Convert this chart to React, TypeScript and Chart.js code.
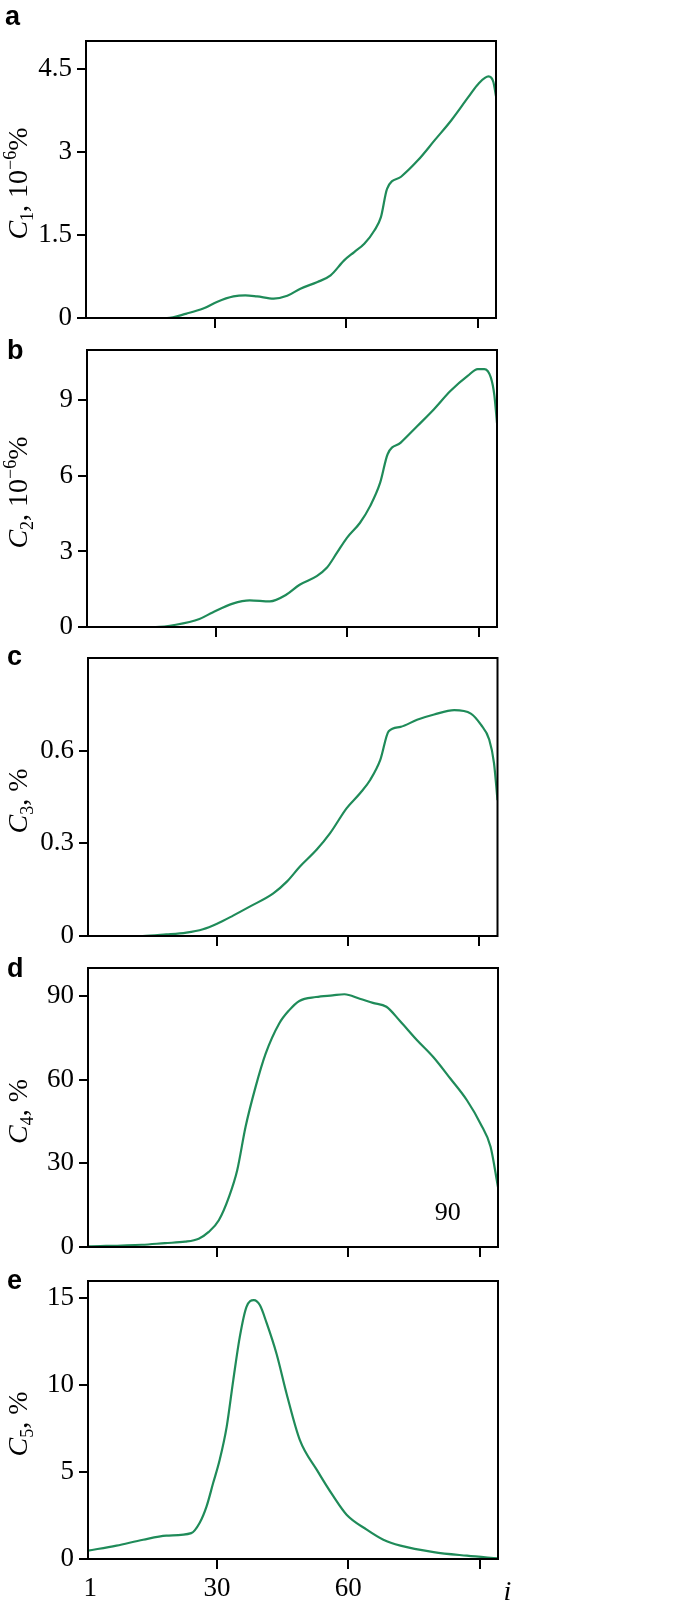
import React, { useEffect, useRef } from 'react';
import { Chart, registerables } from 'chart.js';

Chart.register(...registerables);

// ---------------- data ----------------
const xTickValues = [1, 30, 60, 90];
const xTickLabels = ['1', '30', '60', ''];

const c1I = [0.5, 19, 23.5, 27.3, 30.4, 34.2, 36.9, 39.6, 43.4, 46.5, 49.5, 53.4, 56.4, 59.5, 61.8, 64.1, 66.4, 67.9, 69.3, 72.5, 76.4, 80.2, 84, 87.9, 90.2, 92.5, 93.6, 94.2];
const c1Values = [0, 0, 0.08, 0.17, 0.29, 0.39, 0.41, 0.39, 0.35, 0.4, 0.53, 0.65, 0.77, 1.04, 1.19, 1.34, 1.58, 1.82, 2.33, 2.55, 2.85, 3.21, 3.57, 3.99, 4.23, 4.36, 4.26, 4.0];
const c1Ticks = [0, 1.5, 3, 4.5];
const c1TickLabels = ['0', '1.5', '3', '4.5'];

const c2I = [0.5, 16.2, 20.8, 26.2, 29.2, 33.8, 37.7, 42.3, 46.1, 49.1, 53.0, 55.3, 57.6, 59.9, 62.9, 65.2, 67.5, 69.2, 72.2, 76.0, 79.8, 83.6, 87.5, 89.8, 91.3, 92.8, 93.6, 94.2];
const c2Values = [0, 0, 0.09, 0.32, 0.58, 0.93, 1.06, 1.02, 1.29, 1.68, 2.02, 2.35, 2.94, 3.54, 4.14, 4.8, 5.73, 6.86, 7.32, 7.98, 8.65, 9.38, 9.97, 10.24, 10.24, 9.9, 9.2, 8.1];
const c2Ticks = [0, 3, 6, 9];
const c2TickLabels = ['0', '3', '6', '9'];

const c3I = [0.5, 13, 18.4, 23.0, 26.8, 29.9, 33.7, 37.5, 42.9, 46.0, 49.0, 52.8, 55.9, 59.7, 62.8, 65.1, 67.4, 69.3, 72.0, 75.8, 79.7, 84.3, 88.1, 90.4, 92.3, 93.4, 94.2];
const c3Values = [0, 0, 0.005, 0.011, 0.022, 0.039, 0.066, 0.095, 0.138, 0.176, 0.225, 0.279, 0.333, 0.414, 0.463, 0.506, 0.571, 0.663, 0.677, 0.7, 0.717, 0.731, 0.72, 0.684, 0.636, 0.56, 0.44];
const c3Ticks = [0, 0.3, 0.6];
const c3TickLabels = ['0', '0.3', '0.6'];

const c4I = [0.5, 12.8, 18.1, 22.7, 25.8, 28.1, 30.4, 32.7, 34.6, 36.5, 38.8, 41.1, 44.2, 46.5, 48.8, 52.6, 56.4, 59.1, 62.6, 65.6, 68.7, 71.8, 75.6, 79.4, 83.3, 87.1, 90.2, 92.5, 94.2];
const c4Values = [0.2, 0.8, 1.4, 1.9, 3.0, 5.4, 9.6, 17.9, 27.5, 43.0, 57.4, 69.3, 80.1, 84.9, 88.2, 89.6, 90.2, 90.6, 89.0, 87.5, 86.1, 81.0, 74.3, 68.1, 60.4, 52.6, 44.2, 35.9, 21.5];
const c4Ticks = [0, 30, 60, 90];
const c4TickLabels = ['0', '30', '60', '90'];
const c4NoteText = '90';
const c4NoteAt = [82.7, 12];

const c5I = [0.5, 7.0, 13.1, 18.4, 24.1, 26.0, 27.6, 29.1, 30.6, 32.2, 33.7, 35.2, 36.7, 38.4, 39.8, 41.3, 43.6, 45.9, 48.9, 52.8, 56.6, 59.6, 64.2, 68.0, 71.9, 79.5, 87.1, 94.2];
const c5Values = [0.48, 0.77, 1.11, 1.34, 1.49, 2.07, 3.03, 4.37, 5.71, 7.62, 10.3, 12.8, 14.5, 14.9, 14.6, 13.6, 11.8, 9.5, 6.86, 5.13, 3.6, 2.55, 1.69, 1.11, 0.77, 0.4, 0.19, 0.03];
const c5Ticks = [0, 5, 10, 15];
const c5TickLabels = ['0', '5', '10', '15'];

// ---------------- layout / style ----------------
const LINE_COLOR = '#1f8b59';
const SERIF = '"Liberation Serif", "Times New Roman", serif';
const SANS = '"Liberation Sans", Arial, sans-serif';
const CANVAS_W = 540;
const PAGE_H = 1607;
const X_MIN = 0.5;
const X_MAX = 94.2;

type Panel = {
  letter: string;
  sub: string;
  sixth: boolean;
  xs: number[];
  ys: number[];
  yMax: number;
  yTicks: number[];
  yLabels: string[];
  left: number;
  right: number;
  top: number;
  bottom: number;
  letterX: number;
  letterY: number;
  showX: boolean;
  last: boolean;
  note?: { text: string; at: number[] };
};

const PANELS: Panel[] = [
  { letter: 'a', sub: '1', sixth: true, xs: c1I, ys: c1Values, yMax: 5, yTicks: c1Ticks, yLabels: c1TickLabels, left: 86, right: 496, top: 41, bottom: 318, letterX: 5, letterY: 25, showX: false, last: false },
  { letter: 'b', sub: '2', sixth: true, xs: c2I, ys: c2Values, yMax: 11, yTicks: c2Ticks, yLabels: c2TickLabels, left: 87, right: 497, top: 350, bottom: 627, letterX: 7, letterY: 359, showX: false, last: false },
  { letter: 'c', sub: '3', sixth: false, xs: c3I, ys: c3Values, yMax: 0.9, yTicks: c3Ticks, yLabels: c3TickLabels, left: 88, right: 497.5, top: 658, bottom: 936, letterX: 7, letterY: 665, showX: false, last: false },
  { letter: 'd', sub: '4', sixth: false, xs: c4I, ys: c4Values, yMax: 100, yTicks: c4Ticks, yLabels: c4TickLabels, left: 88, right: 498, top: 968, bottom: 1247, letterX: 7, letterY: 977, showX: false, last: false, note: { text: c4NoteText, at: c4NoteAt } },
  { letter: 'e', sub: '5', sixth: false, xs: c5I, ys: c5Values, yMax: 16, yTicks: c5Ticks, yLabels: c5TickLabels, left: 88, right: 498, top: 1281, bottom: 1559, letterX: 7, letterY: 1289, showX: true, last: true },
];

function canvasTopOf(p: Panel) {
  return Math.max(0, p.top - 45);
}
function canvasHeightOf(p: Panel) {
  const t = canvasTopOf(p);
  return p.last ? PAGE_H - t : p.bottom + 25 - t;
}

function drawTitle(ctx: CanvasRenderingContext2D, p: Panel, cy: number) {
  const main = 28;
  const small = 18;
  const segs: { t: string; font: string; dy: number }[] = [
    { t: 'C', font: `italic ${main}px ${SERIF}`, dy: 0 },
    { t: p.sub, font: `${small}px ${SERIF}`, dy: 6 },
  ];
  if (p.sixth) {
    segs.push({ t: ', 10', font: `${main}px ${SERIF}`, dy: 0 });
    segs.push({ t: '\u22126', font: `${small}px ${SERIF}`, dy: -11 });
    segs.push({ t: '%', font: `${main}px ${SERIF}`, dy: 0 });
  } else {
    segs.push({ t: ', %', font: `${main}px ${SERIF}`, dy: 0 });
  }
  ctx.save();
  ctx.translate(27, cy);
  ctx.rotate(-Math.PI / 2);
  ctx.fillStyle = '#000';
  ctx.textBaseline = 'alphabetic';
  ctx.textAlign = 'left';
  let total = 0;
  for (const s of segs) {
    ctx.font = s.font;
    total += ctx.measureText(s.t).width;
  }
  let x = -total / 2;
  for (const s of segs) {
    ctx.font = s.font;
    ctx.fillText(s.t, x, s.dy);
    x += ctx.measureText(s.t).width;
  }
  ctx.restore();
}

function PanelChart({ p }: { p: Panel }) {
  const ref = useRef<HTMLCanvasElement | null>(null);
  useEffect(() => {
    const canvas = ref.current;
    if (!canvas) return;
    const cTop = canvasTopOf(p);
    const cH = canvasHeightOf(p);
    const points = p.xs.map((x, i) => ({ x, y: p.ys[i] }));
    const tickColor = (ctx: any) => (ctx.tick && ctx.tick.value === 1 ? 'rgba(0,0,0,0)' : '#000');
    const decor = {
      id: 'decor',
      afterDatasetsDraw(chart: any) {
        const { ctx, chartArea: a } = chart;
        ctx.save();
        ctx.strokeStyle = '#000';
        ctx.lineWidth = 2;
        ctx.strokeRect(a.left, a.top, a.right - a.left, a.bottom - a.top);
        // panel letter
        ctx.fillStyle = '#000';
        ctx.font = `bold 27px ${SANS}`;
        ctx.textAlign = 'left';
        ctx.textBaseline = 'alphabetic';
        ctx.fillText(p.letter, p.letterX, p.letterY - cTop);
        // note inside the plot
        if (p.note) {
          const xs = chart.scales.x;
          const ys = chart.scales.y;
          ctx.font = `26px ${SERIF}`;
          ctx.textAlign = 'center';
          ctx.textBaseline = 'middle';
          ctx.fillText(p.note.text, xs.getPixelForValue(p.note.at[0]), ys.getPixelForValue(p.note.at[1]));
        }
        if (p.last) {
          ctx.font = `italic 28px ${SERIF}`;
          ctx.textAlign = 'center';
          ctx.textBaseline = 'middle';
          ctx.fillText('i', a.right + 9.5, a.bottom + 34);
        }
        ctx.restore();
        drawTitle(ctx, p, (a.top + a.bottom) / 2 + 4);
      },
    };
    const chart = new Chart(canvas, {
      type: 'line',
      data: {
        datasets: [
          {
            data: points,
            borderColor: LINE_COLOR,
            borderWidth: 2.2,
            pointRadius: 0,
            fill: false,
            cubicInterpolationMode: 'monotone',
          },
        ],
      },
      options: {
        animation: false,
        responsive: false,
        events: [],
        layout: { padding: { top: p.top - cTop, right: CANVAS_W - p.right, left: 0, bottom: 0 } },
        plugins: { legend: { display: false }, tooltip: { enabled: false } },
        scales: {
          x: {
            type: 'linear',
            min: X_MIN,
            max: X_MAX,
            afterBuildTicks: (s: any) => {
              s.ticks = xTickValues.map((v) => ({ value: v }));
            },
            afterFit: (s: any) => {
              s.height = cH - (p.bottom - cTop);
            },
            grid: { display: true, drawOnChartArea: false, drawTicks: true, tickLength: 10, lineWidth: 2, color: tickColor },
            border: { display: false },
            ticks: {
              display: p.showX,
              padding: 4,
              maxRotation: 0,
              autoSkip: false,
              color: '#000',
              font: { family: SERIF, size: 27 },
              callback: (_v: any, i: number) => xTickLabels[i],
            },
          },
          y: {
            type: 'linear',
            min: 0,
            max: p.yMax,
            afterBuildTicks: (s: any) => {
              s.ticks = p.yTicks.map((v) => ({ value: v }));
            },
            afterFit: (s: any) => {
              s.width = p.left;
            },
            grid: { display: true, drawOnChartArea: false, drawTicks: true, tickLength: 9, lineWidth: 2, color: '#000' },
            border: { display: false },
            ticks: {
              padding: 5,
              autoSkip: false,
              color: '#000',
              font: { family: SERIF, size: 27 },
              callback: (_v: any, i: number) => p.yLabels[i],
            },
          },
        },
      },
      plugins: [decor],
    } as any);
    return () => chart.destroy();
  }, [p]);
  const cTop = canvasTopOf(p);
  const cH = canvasHeightOf(p);
  return (
    <canvas
      ref={ref}
      width={CANVAS_W}
      height={cH}
      style={{ position: 'absolute', left: 0, top: cTop, width: CANVAS_W, height: cH }}
    />
  );
}

export default function App() {
  return (
    <div style={{ position: 'absolute', left: 0, top: 0, width: 685, height: PAGE_H, background: '#fff', overflow: 'hidden' }}>
      {PANELS.map((p) => (
        <PanelChart key={p.letter} p={p} />
      ))}
    </div>
  );
}
